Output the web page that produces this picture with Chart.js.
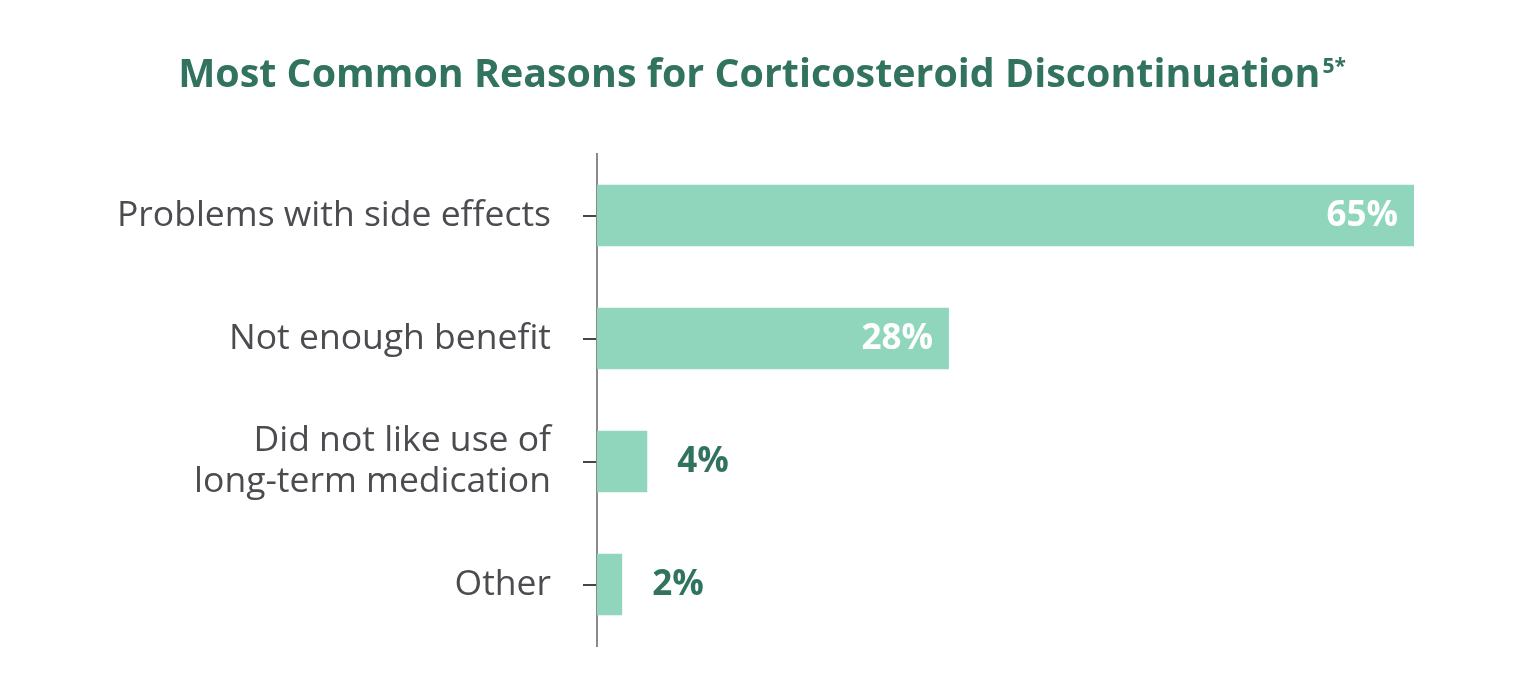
<!DOCTYPE html>
<html>
<head>
<meta charset="utf-8">
<script src="https://cdn.jsdelivr.net/npm/chart.js@4.4.0/dist/chart.umd.min.js"></script>
<style>
  html, body { margin: 0; padding: 0; background: #fff; }
  #wrap { position: relative; width: 1522px; height: 694px; }
</style>
</head>
<body>
<div id="wrap"><canvas id="chart" width="1522" height="694"></canvas></div>
<script>
/* Most Common Reasons for Corticosteroid Discontinuation — horizontal bar */
const TITLE = "Most Common Reasons for Corticosteroid Discontinuation";
const TITLE_SUP = "5*";
const categories = [
  ["Problems with side effects"],
  ["Not enough benefit"],
  ["Did not like use of", "long-term medication"],
  ["Other"]
];
const values = [65, 28, 4, 2];

const GREEN = "#31735f", BAR = "#90d6bc", LABEL = "#4b4b50";
const FONT = "'Open Sans', sans-serif";

// titre avec exposant, dessiné sur le canvas
const titlePlugin = {
  id: "titleSup",
  afterDraw(chart) {
    const ctx = chart.ctx;
    ctx.save();
    ctx.fillStyle = GREEN;
    ctx.textBaseline = "alphabetic";
    ctx.font = "bold 39.4px " + FONT;
    const w1 = ctx.measureText(TITLE).width;
    ctx.font = "bold 21px " + FONT;
    const w2 = ctx.measureText(TITLE_SUP).width;
    const x0 = chart.width / 2 - (w1 + w2) / 2;
    ctx.textAlign = "left";
    ctx.font = "bold 39.4px " + FONT;
    ctx.fillText(TITLE, x0, 87);
    ctx.font = "bold 21px " + FONT;
    ctx.fillText(TITLE_SUP, x0 + w1 + 2, 73);
    ctx.restore();
  }
};

// étiquettes de valeur : blanches dans la barre, vertes à côté si petite
const valuePlugin = {
  id: "values",
  afterDatasetsDraw(chart) {
    const ctx = chart.ctx, meta = chart.getDatasetMeta(0);
    ctx.save();
    ctx.font = "bold 35px " + FONT;
    ctx.textBaseline = "middle";
    meta.data.forEach((bar, i) => {
      const v = values[i], txt = v + "%";
      if (v > 10) {
        ctx.fillStyle = "#fff"; ctx.textAlign = "right";
        ctx.fillText(txt, bar.x - 16, bar.y + 1);
      } else {
        ctx.fillStyle = GREEN; ctx.textAlign = "left";
        ctx.fillText(txt, bar.x + 30, bar.y + 1);
      }
    });
    ctx.restore();
  }
};

new Chart(document.getElementById("chart"), {
  type: "bar",
  data: {
    labels: categories,
    datasets: [{ data: values, backgroundColor: BAR, borderWidth: 0, barPercentage: 0.5, categoryPercentage: 1 }]
  },
  options: {
    indexAxis: "y",
    responsive: false,
    animation: false,
    layout: { padding: { top: 154, right: 108, bottom: 48, left: 0 } },
    plugins: { legend: { display: false }, tooltip: { enabled: false } },
    scales: {
      x: { display: false, min: 0, max: 65 },
      y: {
        afterFit: s => { s.width = 597; s.paddingTop = 0; s.paddingBottom = 0; },
        border: { display: true, color: "#8a8a8a", width: 2 },
        grid: { offset: false, drawOnChartArea: false, drawTicks: true, tickLength: 14, tickColor: "#45454a", lineWidth: 2 },
        ticks: { color: LABEL, padding: 32, font: { family: FONT, size: 35.5, lineHeight: 1.17 } }
      }
    }
  },
  plugins: [titlePlugin, valuePlugin]
});
</script>
</body>
</html>
